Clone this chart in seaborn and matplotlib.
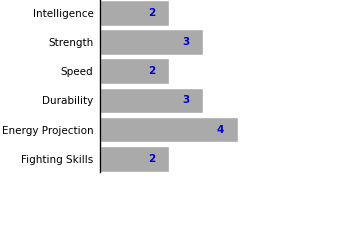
import matplotlib
matplotlib.use("Agg")
import matplotlib.pyplot as plt
import seaborn as sns
import pandas as pd

categories = ["Intelligence", "Strength", "Speed", "Durability", "Energy Projection", "Fighting Skills"]
values = [2, 3, 2, 3, 4, 2]

df = pd.DataFrame({"attr": categories, "val": values})

sns.set_style("white")
plt.rcParams["font.family"] = ["DejaVu Sans"]

fig = plt.figure(figsize=(3.5, 2.5), dpi=100)
ax = fig.add_axes([100.4 / 350, 1 - 171.7 / 250, (350 - 100.4) / 350, 171.7 / 250])

sns.barplot(data=df, y="attr", x="val", orient="h", color="#aaaaaa",
            saturation=1, width=0.88, ax=ax)

for i, v in enumerate(values):
    ax.text(v - 0.5, i, str(v), ha="center", va="center", color="#0000cd",
            fontsize=7.5, fontweight="bold")

ax.set_xlim(0, 249.6 / 34.3)
ax.set_ylim(5 + 0.44, -0.44)
ax.set_xlabel("")
ax.set_ylabel("")
ax.set_xticks([])
ax.tick_params(axis="y", length=0, pad=5, labelsize=7.5, labelcolor="black")
for s in ["top", "right", "bottom"]:
    ax.spines[s].set_visible(False)
ax.spines["left"].set_color("black")
ax.spines["left"].set_linewidth(1)

fig.savefig("out.png", dpi=100)
